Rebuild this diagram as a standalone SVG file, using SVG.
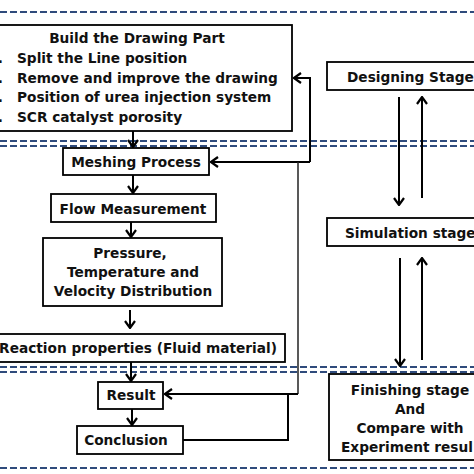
<svg xmlns="http://www.w3.org/2000/svg" width="474" height="474" viewBox="0 0 474 474">
<defs>
<style>
.box{fill:#fff;stroke:#000;stroke-width:1.8}
.t{font-family:"DejaVu Sans","Liberation Sans",sans-serif;font-weight:bold;font-size:13.7px;fill:#111}
.c{text-anchor:middle}
.dash{stroke:#2f4b7c;stroke-width:2;stroke-dasharray:7 3;fill:none}
.con{stroke:#000;stroke-width:2;fill:none}
.thin{stroke:#222;stroke-width:1.5;fill:none}
</style>
<marker id="ah" viewBox="0 0 10 12" refX="9" refY="6" markerWidth="10" markerHeight="12" markerUnits="userSpaceOnUse" orient="auto">
<path d="M2,1 L9,6 L2,11" fill="none" stroke="#000" stroke-width="2.2"/>
</marker>
</defs>
<rect width="474" height="474" fill="#fff"/>

<g id="separators">
<line class="dash" x1="0" y1="12" x2="474" y2="12"/>
<line class="dash" x1="0" y1="141" x2="474" y2="141"/>
<line class="dash" x1="0" y1="146" x2="474" y2="146"/>
<line class="dash" x1="0" y1="367" x2="474" y2="367"/>
<line class="dash" x1="0" y1="372" x2="474" y2="372"/>
<line class="dash" x1="0" y1="468" x2="474" y2="468"/>
</g>

<g id="build">
<rect class="box" x="-20" y="25" width="312" height="106"/>
<text class="t c" x="137" y="43">Build the Drawing Part</text>
<text class="t" x="3" y="63" text-anchor="end">1.</text>
<text class="t" x="17" y="63">Split the Line position</text>
<text class="t" x="3" y="83" text-anchor="end">2.</text>
<text class="t" x="17" y="83">Remove and improve the drawing</text>
<text class="t" x="3" y="102" text-anchor="end">3.</text>
<text class="t" x="17" y="102">Position of urea injection system</text>
<text class="t" x="3" y="122" text-anchor="end">4.</text>
<text class="t" x="17" y="122">SCR catalyst porosity</text>
</g>

<g id="meshing">
<rect class="box" x="63" y="148" width="146" height="27"/>
<text class="t c" x="136" y="167">Meshing Process</text>
</g>

<g id="flow">
<rect class="box" x="51" y="194" width="165" height="28"/>
<text class="t c" x="133" y="214">Flow Measurement</text>
</g>

<g id="pressure">
<rect class="box" x="43" y="238" width="179" height="68"/>
<text class="t c" x="130" y="258">Pressure,</text>
<text class="t c" x="133" y="277">Temperature and</text>
<text class="t c" x="133" y="296">Velocity Distribution</text>
</g>

<g id="reaction">
<rect class="box" x="-2" y="334" width="287" height="28"/>
<text class="t c" x="138" y="353">Reaction properties (Fluid material)</text>
</g>

<g id="result">
<rect class="box" x="98" y="382" width="65" height="27"/>
<text class="t c" x="131" y="400">Result</text>
</g>

<g id="conclusion">
<rect class="box" x="77" y="426" width="106" height="28"/>
<text class="t c" x="126" y="445">Conclusion</text>
</g>

<g id="designing">
<rect class="box" x="327" y="62" width="170" height="28"/>
<text class="t" x="347" y="82">Designing Stage</text>
</g>

<g id="simulation">
<rect class="box" x="327" y="218" width="170" height="28"/>
<text class="t" x="345" y="238">Simulation stage</text>
</g>

<g id="finishing">
<rect class="box" x="329" y="374" width="170" height="86"/>
<text class="t c" x="410" y="395">Finishing stage</text>
<text class="t c" x="410" y="414">And</text>
<text class="t c" x="410" y="433">Compare with</text>
<text class="t" x="341" y="452">Experiment resul</text>
</g>

<g id="connectors">
<line class="con" x1="133" y1="131" x2="133" y2="147" marker-end="url(#ah)"/>
<line class="con" x1="133" y1="175" x2="133" y2="193" marker-end="url(#ah)"/>
<line class="con" x1="131" y1="222" x2="131" y2="237" marker-end="url(#ah)"/>
<line class="con" x1="130" y1="310" x2="130" y2="328" marker-end="url(#ah)"/>
<line class="con" x1="131" y1="362" x2="131" y2="381" marker-end="url(#ah)"/>
<line class="con" x1="132" y1="409" x2="132" y2="425" marker-end="url(#ah)"/>
<path class="con" d="M310,162 V78 H294" marker-end="url(#ah)"/>
<path class="con" d="M310,162 H211" marker-end="url(#ah)"/>
<path class="thin" d="M298,162 V394"/>
<path class="con" d="M298,394 H165" marker-end="url(#ah)"/>
<path class="con" d="M183,440 H288 V394"/>
<line class="con" x1="399" y1="97" x2="399" y2="205" marker-end="url(#ah)"/>
<line class="con" x1="422" y1="198" x2="422" y2="97" marker-end="url(#ah)"/>
<line class="con" x1="400" y1="258" x2="400" y2="366" marker-end="url(#ah)"/>
<line class="con" x1="422" y1="360" x2="422" y2="258" marker-end="url(#ah)"/>
</g>
</svg>
